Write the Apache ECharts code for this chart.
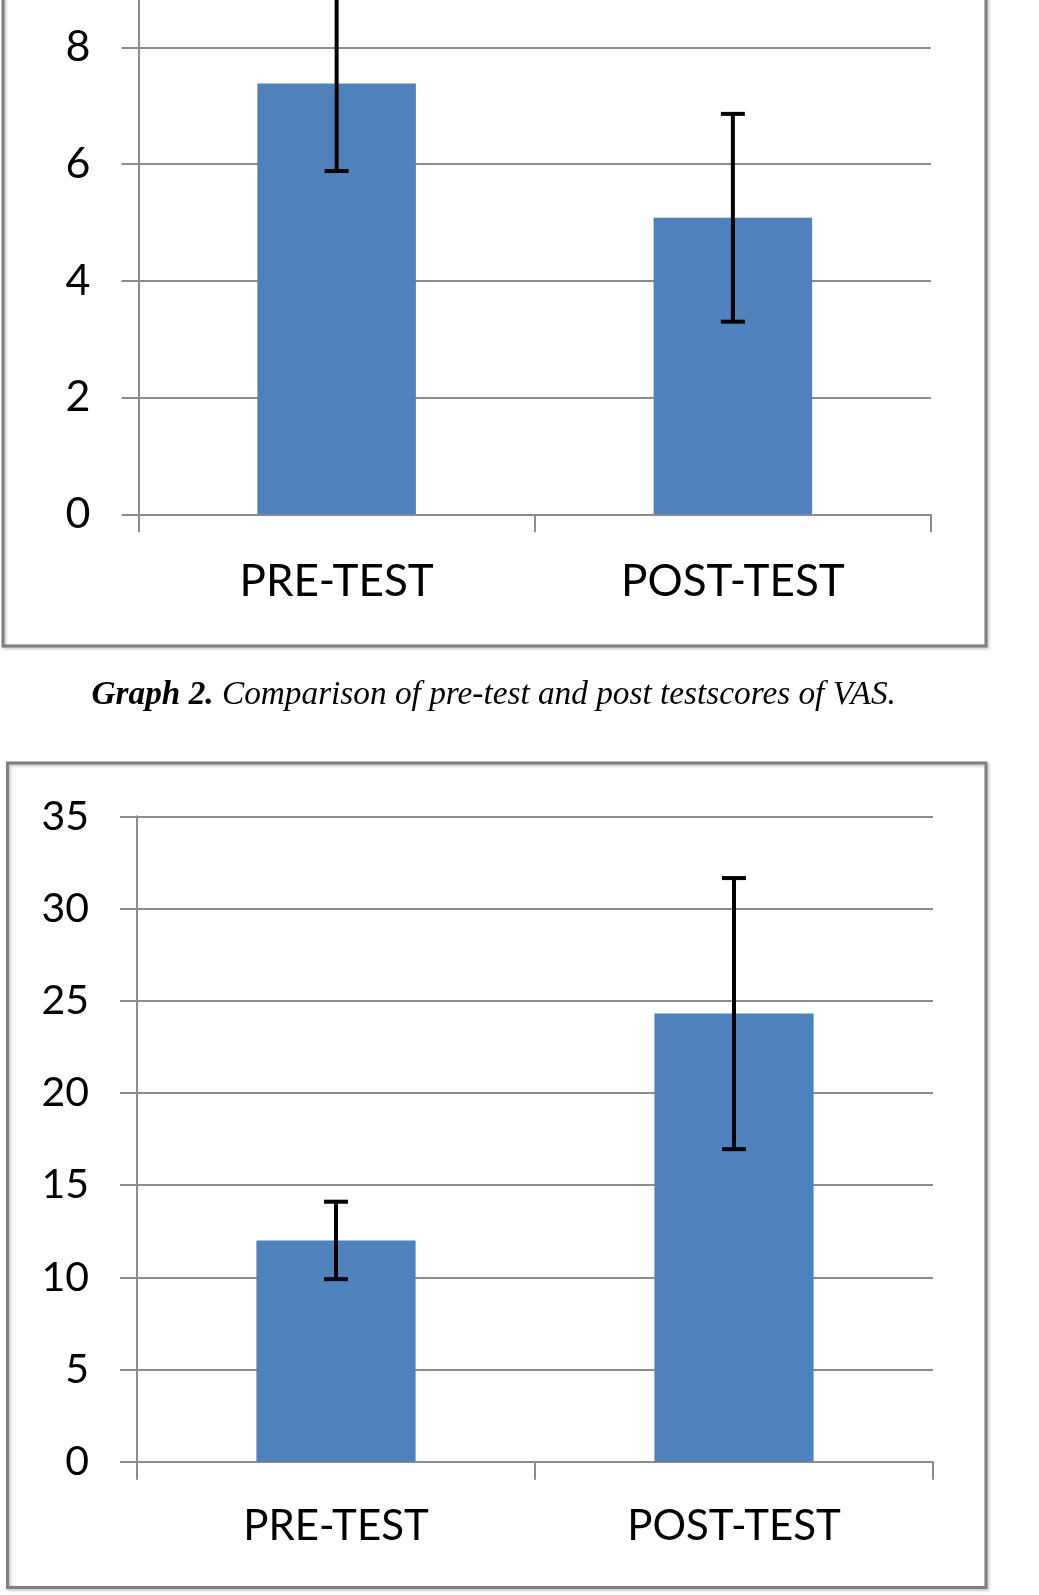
<!DOCTYPE html>
<html><head><meta charset="utf-8">
<script src="https://cdn.jsdelivr.net/npm/echarts@6/dist/echarts.min.js"></script>
<style>html,body{margin:0;padding:0;background:#fff;overflow:hidden}
#wrap{position:relative;width:1039px;height:1595px;overflow:hidden}
#c{position:absolute;left:0;top:-70px;width:1039px;height:1665px}</style>
</head><body><div id="wrap"><div id="c"></div></div>
<script>
// ---- data ----
const categories = ['PRE-TEST', 'POST-TEST'];
const vasMean = [7.38, 5.08];
const vasSD = [1.50, 1.78];
const scoreMean = [12.0, 24.3];
const scoreSD = [2.1, 7.35];
const vasAxis = { min: 0, max: 10, interval: 2 };
const scoreAxis = { min: 0, max: 35, interval: 5 };
const captionBold = 'Graph 2.';
const captionText = ' Comparison of pre-test and post testscores of VAS.';

// ---- chart (canvas is 70px taller and shifted up; the top of graph 1 is cropped like the reference) ----
const OFF = 70;
const chart = echarts.init(document.getElementById('c'), null, { renderer: 'canvas', width: 1039, height: 1595 + OFF });
const gray = '#8c8c8c';
const barColor = '#4f81bd';
const fontFam = 'Lato';

function errData(mean, sd) { return mean.map((m, i) => [i, m - sd[i], m + sd[i]]); }
function errRender(params, api) {
  const x = api.value(0);
  const lo = api.coord([x, api.value(1)]);
  const hi = api.coord([x, api.value(2)]);
  const hw = 12;
  const style = { stroke: '#000', lineWidth: 4 };
  return { type: 'group', children: [
    { type: 'line', shape: { x1: lo[0], y1: lo[1], x2: hi[0], y2: hi[1] }, style },
    { type: 'line', shape: { x1: lo[0] - hw, y1: lo[1], x2: lo[0] + hw, y2: lo[1] }, style },
    { type: 'line', shape: { x1: hi[0] - hw, y1: hi[1], x2: hi[0] + hw, y2: hi[1] }, style }
  ] };
}
function xAxisCfg(gi, fs, margin) {
  return {
    type: 'category', gridIndex: gi, data: categories,
    axisLine: { lineStyle: { color: gray, width: 2 } },
    axisTick: { show: true, length: 18, lineStyle: { color: gray, width: 2 } },
    axisLabel: { color: '#000', fontFamily: fontFam, fontSize: fs, margin: margin }
  };
}
function yAxisCfg(gi, ax, fs) {
  return {
    type: 'value', gridIndex: gi, min: ax.min, max: ax.max, interval: ax.interval,
    axisLine: { show: true, lineStyle: { color: gray, width: 2 } },
    axisTick: { show: true, length: 17, lineStyle: { color: gray, width: 2 } },
    splitLine: { lineStyle: { color: gray, width: 2 } },
    axisLabel: { color: '#000', fontFamily: fontFam, fontSize: fs, margin: 48 }
  };
}

const option = {
  animation: false,
  backgroundColor: '#fff',
  grid: [
    { left: 138.5, right: 108, top: -69.4 + OFF, bottom: 1080.7, containLabel: false, outerBoundsMode: 'none' },
    { left: 137, right: 106, top: 816.3 + OFF, bottom: 133.3, containLabel: false, outerBoundsMode: 'none' }
  ],
  xAxis: [xAxisCfg(0, 44, 46), xAxisCfg(1, 42, 44)],
  yAxis: [yAxisCfg(0, vasAxis, 43), yAxisCfg(1, scoreAxis, 41)],
  series: [
    { type: 'bar', xAxisIndex: 0, yAxisIndex: 0, data: vasMean, barWidth: '40%', itemStyle: { color: barColor } },
    { type: 'custom', xAxisIndex: 0, yAxisIndex: 0, data: errData(vasMean, vasSD), renderItem: errRender, z: 5, clip: false },
    { type: 'bar', xAxisIndex: 1, yAxisIndex: 1, data: scoreMean, barWidth: '40%', itemStyle: { color: barColor } },
    { type: 'custom', xAxisIndex: 1, yAxisIndex: 1, data: errData(scoreMean, scoreSD), renderItem: errRender, z: 5, clip: false }
  ],
  graphic: [
    { type: 'rect', shape: { x: 3, y: -10 + OFF, width: 983, height: 656 },
      style: { fill: 'none', stroke: '#7f7f7f', lineWidth: 3, shadowBlur: 3, shadowOffsetX: 1.5, shadowOffsetY: 1.5, shadowColor: 'rgba(0,0,0,0.25)' } },
    { type: 'rect', shape: { x: 7.5, y: 763 + OFF, width: 978.5, height: 824.5 },
      style: { fill: 'none', stroke: '#7f7f7f', lineWidth: 3, shadowBlur: 3, shadowOffsetX: 1.5, shadowOffsetY: 1.5, shadowColor: 'rgba(0,0,0,0.25)' } },
    { type: 'text', x: 91.5, y: 695.5 + OFF,
      style: {
        text: '{b|' + captionBold + '}{i|' + captionText + '}',
        verticalAlign: 'middle', align: 'left',
        rich: {
          b: { fontFamily: 'Liberation Serif', fontSize: 33.3, fontWeight: 'bold', fontStyle: 'italic', fill: '#000' },
          i: { fontFamily: 'Liberation Serif', fontSize: 33.3, fontStyle: 'italic', fill: '#000' }
        }
      } }
  ]
};
chart.setOption(option);
</script>
</body></html>
